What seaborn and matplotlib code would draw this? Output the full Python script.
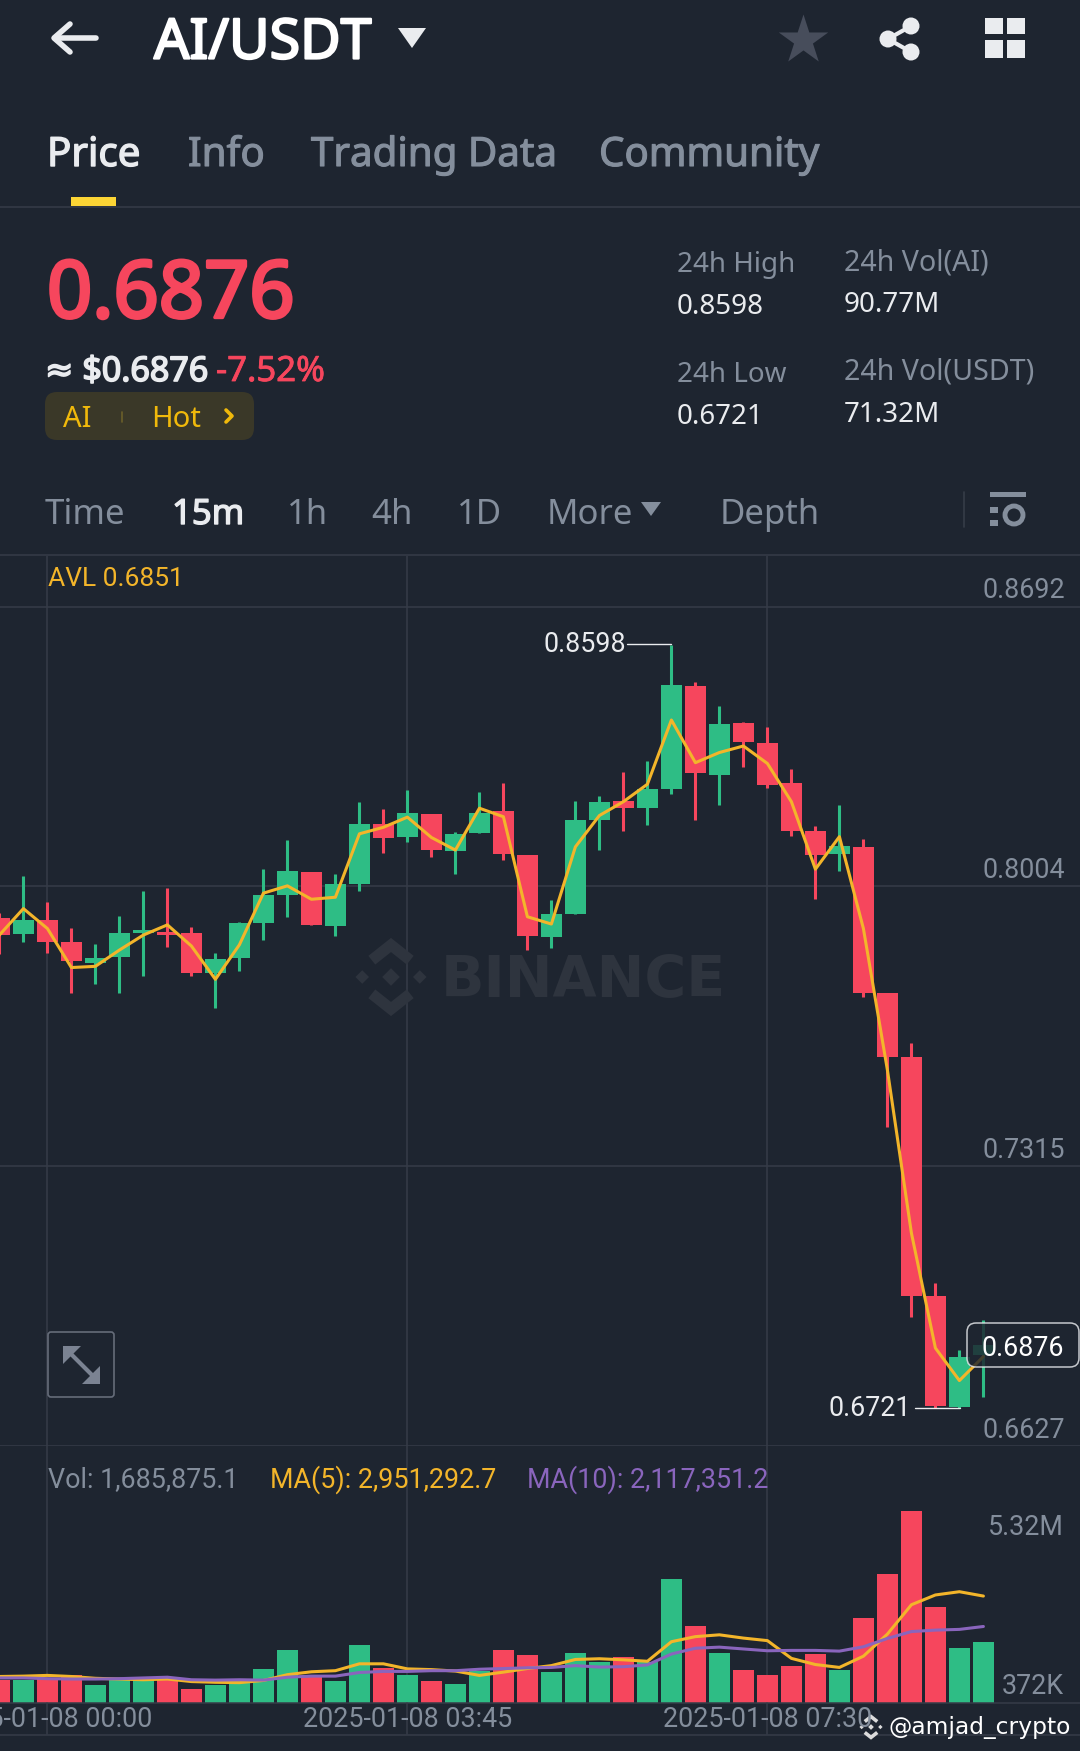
import matplotlib
matplotlib.use('Agg')
import matplotlib.pyplot as plt
import matplotlib.patheffects as pe
from matplotlib.patches import FancyBboxPatch, Rectangle, Polygon, Circle
import pandas as pd
import seaborn as sns

# Candle data, index 1 is 2025-01-08 00:00, 15m candles
candle_idx = list(range(-1, 41))
opens = [.7925,.7886,.7922,.7867,.7814,.7830,.7888,.7892,.7889,.7791,.7827,.7913,.7983,.8040,.7906,.8010,.8157,.8126,.8182,.8091,.8135,.8188,
         .8080,.7880,.7936,.8168,.8213,.8196,.8243,.8497,.8278,.8406,.8356,.8259,.8139,.8083,.8101,.7741,.7585,.6996,.6722,.6851]
highs = [.7937,.8029,.7965,.7901,.7862,.7930,.7992,.7999,.7903,.7841,.7917,.8046,.8119,.8040,.8033,.8212,.8194,.8241,.8182,.8137,.8237,.8257,
         .8080,.7969,.8214,.8226,.8284,.8313,.8598,.8506,.8448,.8408,.8395,.8292,.8151,.8204,.8121,.7741,.7619,.7029,.6863,.6937]
lows = [.7837,.7866,.7839,.7741,.7763,.7742,.7784,.7855,.7784,.7705,.7795,.7872,.7928,.7908,.7882,.7992,.8087,.8113,.8077,.8033,.8135,.8069,
        .7846,.7851,.7936,.8093,.8140,.8155,.8231,.8167,.8204,.8298,.8245,.8128,.7973,.8042,.7732,.7412,.6945,.6721,.6721,.6748]
closes = [.7884,.7922,.7866,.7820,.7827,.7889,.7896,.7884,.7791,.7825,.7914,.7983,.8042,.7908,.8010,.8157,.8123,.8183,.8092,.8133,.8185,.8083,
          .7882,.7936,.8166,.8211,.8196,.8243,.8498,.8283,.8403,.8358,.8253,.8141,.8081,.8104,.7742,.7585,.6996,.6725,.6847,.6876]
price_ma = [.7884,.7949,.7900,.7804,.7807,.7847,.7884,.7909,.7857,.7775,.7860,.7987,.8005,.7972,.7977,.8133,.8149,.8174,.8124,.8093,.8196,.8175,
            .7929,.7911,.8101,.8178,.8212,.8255,.8413,.8308,.8333,.8349,.8306,.8212,.8046,.8126,.7900,.7552,.7151,.6868,.6788,.6847]

# volume in millions
volumes = [.64,.64,.66,.78,.51,.63,.63,.63,.39,.50,.66,.96,1.47,.74,.61,1.60,.98,.78,.62,.52,.90,1.46,
           1.33,.87,1.38,1.15,1.27,1.15,3.42,2.13,1.40,.92,.77,1.04,1.37,.92,2.36,3.58,5.32,2.67,1.52,1.69]
vol_ma5 = [.74,.75,.77,.74,.69,.67,.65,.67,.60,.58,.57,.63,.79,.87,.90,1.09,1.09,.95,.93,.89,.77,.86,
           .96,1.04,1.21,1.23,1.20,1.16,1.70,1.84,1.89,1.80,1.73,1.24,1.07,.99,1.30,1.91,2.72,2.99,3.08,2.96]
vol_ma10 = [.70,.70,.68,.67,.67,.68,.70,.72,.65,.64,.65,.64,.72,.75,.75,.85,.88,.88,.90,.90,.94,.96,
            .98,.99,1.04,1.00,1.01,1.06,1.36,1.52,1.55,1.50,1.45,1.46,1.46,1.44,1.56,1.79,1.98,2.02,2.04,2.12]

price_ticks = [0.8692, 0.8004, 0.7315, 0.6627]
date_idx = [1, 16, 31]
date_labels = ['2025-01-08 00:00', '2025-01-08 03:45', '2025-01-08 07:30']

BG = '#1e2530'
GRID = '#363c48'
GRAY = '#848e9c'
RED = '#f6465d'
GREEN = '#2ebd85'
YELLOW = '#f0b90b'
MA_YEL = '#f3b52a'
PURPLE = '#8a65bd'
WHITE = '#eaecef'

sns.set_theme(style='dark')
plt.rcParams['font.family'] = ['Noto Sans', 'DejaVu Sans']
plt.rcParams['axes.facecolor'] = BG
plt.rcParams['figure.facecolor'] = BG

W, H = 1080, 1751
fig = plt.figure(figsize=(W / 100, H / 100), dpi=100)


def add_axes_px(top, bottom):
    return fig.add_axes([0, 1 - bottom / H, 1, (bottom - top) / H])


x_lim = ((0 - 23.4) / 24, (W - 23.4) / 24)
df = pd.DataFrame({'idx': candle_idx, 'open': opens, 'high': highs, 'low': lows, 'close': closes,
                   'ma': price_ma, 'vol': volumes, 'ma5': vol_ma5, 'ma10': vol_ma10})
df['side'] = ['up' if c >= o else 'down' for o, c in zip(df.open, df.close)]
colors = df.side.map({'up': GREEN, 'down': RED})

# price panel
ax = add_axes_px(556, 1446)
ax.set_xlim(*x_lim)
ax.set_ylim(0.6627, 0.6627 + 890 / 4065)
for p in price_ticks:
    ax.axhline(p, color=GRID, lw=1.1, zorder=1)
for i in date_idx:
    ax.axvline(i, color=GRID, lw=1.1, zorder=1)
ax.vlines(df.idx, df.low, df.high, colors=colors, lw=2.2, zorder=2)
ax.bar(df.idx, (df.close - df.open).abs(), bottom=df[['open', 'close']].min(axis=1),
       width=0.875, color=colors, linewidth=0, zorder=3)
sns.lineplot(data=df, x='idx', y='ma', color=MA_YEL, lw=2.2, estimator=None, ax=ax, zorder=4)
ax.axis('off')

# volume panel
ax_v = add_axes_px(1446, 1703.3)
sns.barplot(data=df, x='idx', y='vol', hue='side', palette={'up': GREEN, 'down': RED}, dodge=False,
            native_scale=True, width=0.875, saturation=1, legend=False, linewidth=0, ax=ax_v, zorder=3)
sns.lineplot(data=df, x='idx', y='ma5', color=MA_YEL, lw=2.2, estimator=None, ax=ax_v, zorder=4)
sns.lineplot(data=df, x='idx', y='ma10', color=PURPLE, lw=2.2, estimator=None, ax=ax_v, zorder=5)
for i in date_idx:
    ax_v.axvline(i, color=GRID, lw=1.1, zorder=1)
ax_v.set_xlim(*x_lim)
ax_v.set_ylim(0, 257.3 * 0.0276)
ax_v.axis('off')

# everything else sits on one overlay in pixel coordinates
ov = fig.add_axes([0, 0, 1, 1], facecolor='none')
ov.set_xlim(0, W)
ov.set_ylim(H, 0)
ov.axis('off')


def txt(x, y, s, color=GRAY, size=20, ha='left', family=None, stroke=0, dy=4, **kw):
    fam = family if family else ['Noto Sans', 'DejaVu Sans']
    t = ov.text(x, y + dy, s, color=color, fontsize=size, ha=ha, va='center', family=fam, **kw)
    if stroke:
        t.set_path_effects([pe.withStroke(linewidth=stroke, foreground=color)])
    return t


def rtxt(x, y, s, color=GRAY, size=19.4, ha='left', **kw):
    return txt(x, y, s, color=color, size=size, ha=ha, family='Roboto', dy=2.2, **kw)


def hline(x0, x1, y, color=GRID, lw=1.1):
    ov.plot([x0, x1], [y, y], color=color, lw=lw, solid_capstyle='butt')


def diamond_logo(cx, cy, s, color):
    # binance style mark, small diamonds and two chevrons
    for dx, r in [(0, .22), (-.72, .17), (.72, .17)]:
        ov.add_patch(Polygon([(cx + dx * s - r * s, cy), (cx + dx * s, cy - r * s),
                              (cx + dx * s + r * s, cy), (cx + dx * s, cy + r * s)],
                             color=color, lw=0))
    ov.plot([cx - .48 * s, cx, cx + .48 * s], [cy - .42 * s, cy - s * .8, cy - .42 * s], color=color, lw=s * .2,
            solid_joinstyle='miter', solid_capstyle='butt')
    ov.plot([cx - .48 * s, cx, cx + .48 * s], [cy + .42 * s, cy + s * .8, cy + .42 * s], color=color, lw=s * .2,
            solid_joinstyle='miter', solid_capstyle='butt')


# header
ov.plot([57, 96], [38, 38], color=WHITE, lw=4, solid_capstyle='round')
ov.plot([70, 54, 70], [24, 38, 52], color=WHITE, lw=4, solid_capstyle='round', solid_joinstyle='round')
txt(154, 40, 'AI/USDT', color='white', size=40, stroke=1.6)
ov.add_patch(Polygon([(398, 28), (426, 28), (412, 48)], color=WHITE, lw=0))
ov.scatter([803], [40], marker='*', s=1400, color='#474d5b', lw=0)
for cx, cy in [(911, 26), (888, 39), (911, 52)]:
    ov.add_patch(Circle((cx, cy), 8.5, color=WHITE, lw=0))
ov.plot([911, 888, 911], [26, 39, 52], color=WHITE, lw=3)
for x0, y0, w, h in [(985, 18, 18, 16), (1007, 18, 18, 16), (985, 40, 18, 18), (1007, 40, 18, 18)]:
    ov.add_patch(Rectangle((x0, y0), w, h, color=WHITE, lw=0))

# tabs
txt(47, 152, 'Price', color=WHITE, size=29, stroke=1)
txt(188, 152, 'Info', size=29, stroke=.8)
txt(311, 152, 'Trading Data', size=29, stroke=.8)
txt(599, 152, 'Community', size=29, stroke=.8)
ov.add_patch(Rectangle((71, 197), 45, 9, color='#fcd535', lw=0))
hline(0, W, 207)

# price block
txt(47, 293, '0.6876', color=RED, size=57, stroke=2.4)
txt(45, 368, '≈ $0.6876', color=WHITE, size=24.5, stroke=1.2)
txt(216, 368, '-7.52%', color=RED, size=25, stroke=.6)
ov.add_patch(FancyBboxPatch((45, 392), 209, 48, boxstyle='round,pad=0,rounding_size=12', fc='#3a3828', ec='none', lw=0))
txt(63, 415, 'AI', color=YELLOW, size=21)
ov.plot([122, 122], [412, 422], color='#6b5f2a', lw=1.2)
txt(151, 415, 'Hot', color=YELLOW, size=21)
ov.plot([226, 232, 226], [410, 416, 422], color=YELLOW, lw=2.6)

# 24h stats
for x, y, s in [(677, 261, '24h High'), (844, 259, '24h Vol(AI)'), (677, 371, '24h Low'), (844, 368, '24h Vol(USDT)')]:
    txt(x, y, s, size=20 if x < 800 else 20.6)
for x, y, s in [(677, 303, '0.8598'), (844, 301, '90.77M'), (677, 413, '0.6721'), (844, 411, '71.32M')]:
    txt(x, y, s, color=WHITE, size=20)

# interval row
for x, s in [(45, 'Time'), (287, '1h'), (371, '4h'), (457, '1D'), (547, 'More'), (720, 'Depth')]:
    txt(x, 511, s, size=25)
txt(172, 511, '15m', color=WHITE, size=25, stroke=1)
ov.add_patch(Polygon([(641, 502), (661, 502), (651, 516)], color=GRAY, lw=0))
ov.plot([964, 964], [492, 527], color=GRID, lw=1.2)
ov.add_patch(Rectangle((990, 492), 36, 5, color=GRAY, lw=0))
ov.add_patch(Rectangle((990, 507), 8, 6, color=GRAY, lw=0))
ov.add_patch(Rectangle((990, 520), 8, 6, color=GRAY, lw=0))
ov.add_patch(Circle((1014, 515), 9, fc=BG, ec=GRAY, lw=3.5))
hline(0, W, 555)

# chart texts
rtxt(48, 577, 'AVL 0.6851', color=MA_YEL, size=19)
for y, p in zip([588, 868, 1148, 1428], price_ticks):
    rtxt(1065, y, f'{p:.4f}', ha='right')
hline(0, W, 1703.3)
hline(0, W, 1734.7)
for i in date_idx:
    ov.plot([23.4 + 24 * i] * 2, [1703, 1734], color=GRID, lw=1.1)

# high and low markers
rtxt(626, 642, '0.8598', color=WHITE, ha='right')
ov.plot([627, 671], [644.5, 644.5], color=WHITE, lw=1)
rtxt(911, 1406, '0.6721', color=WHITE, ha='right')
ov.plot([915, 960], [1408, 1408], color=WHITE, lw=1)

# last price label
ov.add_patch(FancyBboxPatch((976, 1332), 94, 26, boxstyle='round,pad=9,rounding_size=9', fc=BG, ec=WHITE,
                            alpha=.82, lw=1.1))
rtxt(1023, 1346, '0.6876', color='white', ha='center')

# expand button
ov.add_patch(FancyBboxPatch((48, 1332), 66, 65, boxstyle='round,pad=0,rounding_size=3', fc='none', ec='#656c79', lw=1.2))
ov.plot([68, 96], [1351, 1379], color='#7b8392', lw=3)
ov.add_patch(Polygon([(63, 1346), (81, 1346), (63, 1364)], color='#7b8392', lw=0))
ov.add_patch(Polygon([(100, 1384), (82, 1384), (100, 1366)], color='#7b8392', lw=0))

# central watermark
diamond_logo(391, 977, 40, '#2e343e')
txt(441, 977, 'BINANCE', color='#2e343e', size=41, family='DejaVu Sans', fontweight='bold', dy=4)

# volume texts
rtxt(48, 1477, 'Vol: 1,685,875.1')
rtxt(270, 1477, 'MA(5): 2,951,292.7', color=MA_YEL)
rtxt(527, 1477, 'MA(10): 2,117,351.2', color=PURPLE)
rtxt(1064, 1525, '5.32M', ha='right')
rtxt(1064, 1684, '372K', ha='right')
for i, s in zip(date_idx, date_labels):
    rtxt(23.4 + 24 * i, 1717, s, ha='center')

# share watermark
diamond_logo(871, 1727, 13, '#dcdcdc')
txt(889, 1727, '@amjad_crypto', color='white', size=16.8, family='DejaVu Sans', dy=0)

fig.savefig('out.png', dpi=100, facecolor=BG)
